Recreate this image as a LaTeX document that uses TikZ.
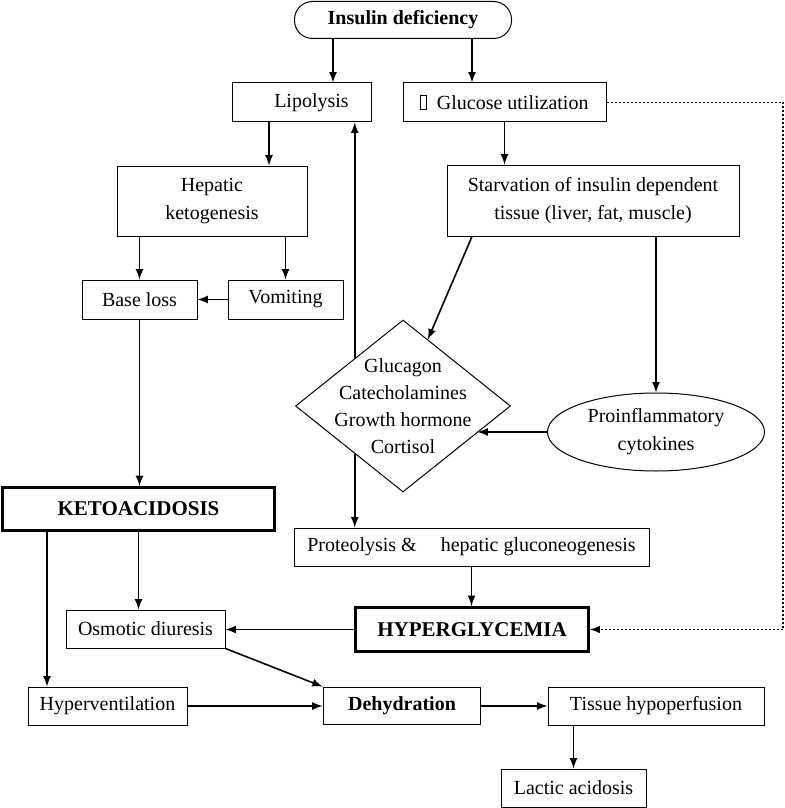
\documentclass[tikz,border=0pt]{standalone}
\usepackage{fontspec}
\setmainfont{Liberation Serif}
\usetikzlibrary{arrows,shapes.geometric,calc}
\newcommand{\tofu}{{\setlength{\fboxsep}{0pt}\setlength{\fboxrule}{0.4pt}%
  \fbox{\rule{0pt}{6.5pt}\hspace{2.4pt}}}}
\tikzset{%
  block/.style      = {shape=rectangle, draw, line width=0.5pt,%
                       align=center, inner sep=2pt,%
                       font=\fontsize{10}{14}\selectfont},%
  startblock/.style = {block, rounded corners=9pt,%
                       font=\fontsize{10}{14}\selectfont\bfseries},%
  keyblock/.style   = {block, line width=1.5pt,%
                       font=\fontsize{10.5}{14}\selectfont\bfseries},%
  hubnode/.style    = {shape=diamond, draw, line width=0.5pt, inner sep=0pt},%
  ovalnode/.style   = {shape=ellipse, draw, line width=0.5pt, inner sep=0pt,%
                       align=center, font=\fontsize{10}{14}\selectfont},%
  link/.style       = {-latex, line width=0.8pt}%
}

\begin{document}
\begin{tikzpicture}[x=0.5pt, y=-0.5pt]
	\useasboundingbox (0,0) rectangle (785,808);
	% top row
	\node[startblock, minimum width=108.5pt, minimum height=18.5pt] (insulin) at (403,20) {Insulin deficiency};
	\node[block, minimum width=69.5pt, minimum height=19.5pt] (lipo) at (301.5,102.5) {\hspace{1em}Lipolysis};
	\node[block, minimum width=101.5pt, minimum height=19.5pt] (gluc) at (504.5,102.5) {\tofu\hspace{0.5em}Glucose utilization};
	\node[block, minimum width=95pt, minimum height=35pt] (hep) at (212,201) {Hepatic\\ketogenesis};
	\node[block, minimum width=146pt, minimum height=35.5pt] (starv) at (593,200.5) {Starvation of insulin dependent\\tissue (liver, fat, muscle)};
	\node[block, minimum width=57.5pt, minimum height=19.5pt] (base) at (139.5,299.5) {Base loss};
	\node[block, minimum width=57.5pt, minimum height=19.5pt] (vomit) at (285.5,299.5) {Vomiting};
	% hormones and cytokines
	\node[hubnode, minimum width=107.5pt, minimum height=86pt] (hormones) at (403,406) {};
	\node[align=center, font=\fontsize{10}{13.5}\selectfont] (hormtext) at (hormones.center) {Glucagon\\Catecholamines\\Growth hormone\\Cortisol};
	\node[ovalnode, minimum width=108.5pt, minimum height=39pt] (cyto) at (656,432) {Proinflammatory\\cytokines};
	% lower part
	\node[keyblock, minimum width=136pt, minimum height=21.5pt] (keto) at (138.5,509) {KETOACIDOSIS};
	\node[block, minimum width=177.5pt, minimum height=19pt] (prot) at (471.5,547) {Proteolysis \&\hspace{1.2em}hepatic gluconeogenesis};
	\node[keyblock, minimum width=116.5pt, minimum height=22pt] (hyper) at (472,629.5) {HYPERGLYCEMIA};
	\node[block, minimum width=79.5pt, minimum height=19pt] (osm) at (145.5,629) {Osmotic diuresis};
	\node[block, minimum width=79.5pt, minimum height=19pt] (hvent) at (107.5,706) {Hyperventilation};
	\node[block, line width=0.9pt, minimum width=78.5pt, minimum height=18.5pt, font=\fontsize{10}{14}\selectfont\bfseries] (dehyd) at (402,706) {Dehydration};
	\node[block, minimum width=108pt, minimum height=19pt] (tissue) at (656,706) {Tissue hypoperfusion};
	\node[block, minimum width=72.5pt, minimum height=19pt] (lactic) at (573.5,788) {Lactic acidosis};
	% connector ends
	\coordinate (rim) at (783,0);
	\coordinate (insL) at ($(insulin.south)+(-70,0)$);
	\coordinate (insR) at ($(insulin.south)+(69,0)$);
	\coordinate (lipL) at ($(lipo.south)+(-32.5,0)$);
	\coordinate (hup) at ($(hormones.north)!0.4465!(hormones.west)$);
	\coordinate (hdown) at ($(hormones.south)!0.4465!(hormones.west)$);
	\coordinate (hne) at ($(hormones.north)!0.23!(hormones.east)$);
	\coordinate (hin) at ($(hormones.east)!0.31!(hormones.south)$);
	\coordinate (stL) at ($(starv.south)+(-121,0)$);
	\coordinate (ketL) at ($(keto.south)+(-91.5,0)$);
	% connectors
	\draw[link] (insL) -- (insL |- lipo.north);
	\draw[link] (insR) -- (insR |- gluc.north);
	\draw[link] (lipL) -- (lipL |- hep.north);
	\draw[link] (gluc.south) -- (gluc.south |- starv.north);
	\draw[link] (hep.south -| base.north) -- (base.north);
	\draw[link] (hep.south -| vomit.north) -- (vomit.north);
	\draw[link] (vomit.west) -- (base.east);
	\draw[link] (base.south) -- (base.south |- keto.north);
	\draw[link] (hup) -- (hup |- lipo.south);
	\draw[link] (hdown) -- (hdown |- prot.north);
	\draw[link] (stL) -- (hne);
	\draw[link] (starv.south -| cyto.north) -- (cyto.north);
	\draw[link] (cyto.west) -- (cyto.west -| hin);
	\draw[link] (prot.south) -- (prot.south |- hyper.north);
	\draw[link] (hyper.west) -- (hyper.west -| osm.east);
	\draw[link, line width=0.7pt, dash pattern=on 1pt off 1pt] (gluc.east) -| (rim |- hyper.east) -- (hyper.east);
	\draw[link] (keto.south) -- (keto.south |- osm.north);
	\draw[link] (ketL) -- (ketL |- hvent.north);
	\draw[link] (osm.south east) -- (dehyd.north west);
	\draw[link] (hvent.east) -- (dehyd.west);
	\draw[link] (dehyd.east) -- (tissue.west);
	\draw[link] (tissue.south -| lactic.north) -- (lactic.north);
\end{tikzpicture}
\end{document}
